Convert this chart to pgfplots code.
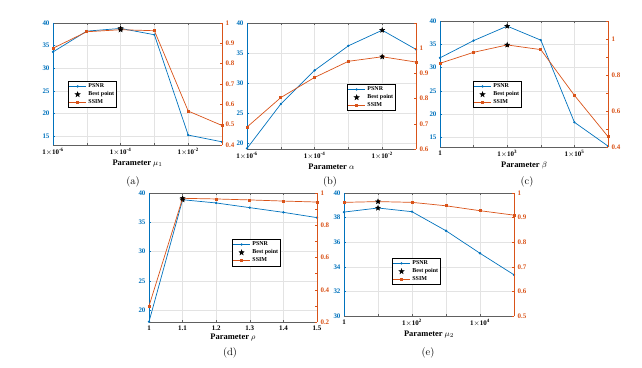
\documentclass[border=0pt]{standalone}
\usepackage{fontspec}
\usepackage{pgfplots}
\pgfplotsset{compat=1.18}
\newfontfamily\tnr{Liberation Serif}
\definecolor{psnr}{RGB}{0,114,189}
\definecolor{ssim}{RGB}{217,83,25}
\pgfdeclareplotmark{fstar}{%
  \pgfpathmoveto{\pgfpointpolar{90}{\pgfplotmarksize}}%
  \pgfpathlineto{\pgfpointpolar{126}{0.4\pgfplotmarksize}}%
  \pgfpathlineto{\pgfpointpolar{162}{\pgfplotmarksize}}%
  \pgfpathlineto{\pgfpointpolar{198}{0.4\pgfplotmarksize}}%
  \pgfpathlineto{\pgfpointpolar{234}{\pgfplotmarksize}}%
  \pgfpathlineto{\pgfpointpolar{270}{0.4\pgfplotmarksize}}%
  \pgfpathlineto{\pgfpointpolar{306}{\pgfplotmarksize}}%
  \pgfpathlineto{\pgfpointpolar{342}{0.4\pgfplotmarksize}}%
  \pgfpathlineto{\pgfpointpolar{18}{\pgfplotmarksize}}%
  \pgfpathlineto{\pgfpointpolar{54}{0.4\pgfplotmarksize}}%
  \pgfpathclose\pgfusepathqfillstroke}
\pgfplotsset{
  base/.style={scale only axis, anchor=south west,
    /pgf/number format/assume math mode=true,
    tick label style={font=\tnr\bfseries\fontsize{7}{8}\selectfont},
    label style={font=\tnr\bfseries\fontsize{8.5}{9}\selectfont},
    major tick length=2.5pt, tick style={line width=0.4pt}},
  leftax/.style={base, separate axis lines,
    x axis line style={color=gray!75!black, line width=0.8pt},
    y axis line style={color=psnr, line width=0.8pt},
    ytick pos=left, yticklabel style={color=psnr}, ytick style={color=psnr},
    xtick style={color=gray!75!black},
    grid=major, grid style={gray!22, line width=0.4pt},
    xlabel style={yshift=3pt}},
  rightax/.style={base, axis y line*=right, axis x line=none,
    y axis line style={color=ssim, line width=0.8pt},
    yticklabel style={color=ssim}, ytick style={color=ssim},
    legend cell align=left},
  lg/.style={legend style={at={#1}, anchor=north west,
    font=\tnr\bfseries\fontsize{6}{6.5}\selectfont, draw=black, line width=0.5pt,
    inner sep=0.5pt, row sep=-1.5pt, fill=white}},
  pline/.style={color=psnr, line width=0.7pt, mark=*, mark size=0.8pt},
  sline/.style={color=ssim, line width=0.7pt, mark=square*, mark size=1pt},
  best/.style={only marks, mark=fstar, mark size=2.6pt, black, mark options={fill=black}},
}
\begin{document}
\begin{tikzpicture}
\useasboundingbox (0,0) rectangle (642bp,368bp);
% ---------------- (a)
\begin{axis}[leftax, at={(53bp,223bp)}, width=169bp, height=122bp,
  xmin=0, xmax=5, xtick={0,1,2,3,4,5},
  xticklabels={1$\times$10\textsuperscript{-6},,1$\times$10\textsuperscript{-4},,1$\times$10\textsuperscript{-2},},
  ymin=13, ymax=40, ytick={15,20,25,30,35,40}, xlabel={Parameter $\mu_1$}]
\addplot[pline] coordinates {(0,33.6) (1,38.2) (2,38.8) (3,37.4) (4,15.2) (5,13.7)};
\addplot[best] coordinates {(2,38.8)};
\end{axis}
\begin{axis}[rightax, at={(53bp,223bp)}, width=169bp, height=122bp,
  xmin=0, xmax=5, ymin=0.4, ymax=1, ytick={0.4,0.5,0.6,0.7,0.8,0.9,1},
  lg={(0.089,0.525)}]
\addlegendimage{pline}\addlegendentry{PSNR}
\addlegendimage{best}\addlegendentry{Best point}
\addplot[sline] coordinates {(0,0.876) (1,0.957) (2,0.967) (3,0.962) (4,0.567) (5,0.496)};
\addlegendentry{SSIM}
\addplot[best, forget plot] coordinates {(2,0.967)};
\end{axis}
% ---------------- (b)
\begin{axis}[leftax, at={(247bp,219bp)}, width=169bp, height=126bp,
  xmin=0, xmax=5, xtick={0,1,2,3,4,5},
  xticklabels={1$\times$10\textsuperscript{-6},,1$\times$10\textsuperscript{-4},,1$\times$10\textsuperscript{-2},},
  ymin=19, ymax=40, ytick={20,25,30,35,40}, xlabel={Parameter $\alpha$}]
\addplot[pline] coordinates {(0,19.1) (1,26.5) (2,32.1) (3,36.2) (4,38.8) (5,35.6)};
\addplot[best] coordinates {(4,38.8)};
\end{axis}
\begin{axis}[rightax, at={(247bp,219bp)}, width=169bp, height=126bp,
  xmin=0, xmax=5, ymin=0.6, ymax=1.1, ytick={0.6,0.7,0.8,0.9,1,1.1},
  yticklabels={0.6,0.7,0.8,0.9,1,}, lg={(0.592,0.516)}]
\addlegendimage{pline}\addlegendentry{PSNR}
\addlegendimage{best}\addlegendentry{Best point}
\addplot[sline] coordinates {(0,0.687) (1,0.804) (2,0.884) (3,0.948) (4,0.966) (5,0.945)};
\addlegendentry{SSIM}
\addplot[best, forget plot] coordinates {(4,0.966)};
\end{axis}
% ---------------- (c)
\begin{axis}[leftax, at={(440bp,221bp)}, width=168bp, height=126bp,
  xmin=0, xmax=5, xtick={0,1,2,3,4,5},
  xticklabels={1,,1$\times$10\textsuperscript{3},,1$\times$10\textsuperscript{5},},
  ymin=13, ymax=40, ytick={15,20,25,30,35,40}, xlabel={Parameter $\beta$}]
\addplot[pline] coordinates {(0,32.1) (1,35.8) (2,38.9) (3,35.9) (4,18.3) (5,13.2)};
\addplot[best] coordinates {(2,38.9)};
\end{axis}
\begin{axis}[rightax, at={(440bp,221bp)}, width=168bp, height=126bp,
  xmin=0, xmax=5, ymin=0.4, ymax=1.1, ytick={0.4,0.5,0.6,0.7,0.8,0.9,1,1.1},
  yticklabels={0.4,,0.6,,0.8,,1,}, lg={(0.196,0.524)}]
\addlegendimage{pline}\addlegendentry{PSNR}
\addlegendimage{best}\addlegendentry{Best point}
\addplot[sline] coordinates {(0,0.865) (1,0.926) (2,0.967) (3,0.941) (4,0.687) (5,0.458)};
\addlegendentry{SSIM}
\addplot[best, forget plot] coordinates {(2,0.967)};
\end{axis}
% ---------------- (d)
\begin{axis}[leftax, at={(149bp,46bp)}, width=168bp, height=129bp,
  xmin=1, xmax=1.5, xtick={1,1.1,1.2,1.3,1.4,1.5},
  ymin=18, ymax=40, ytick={20,25,30,35,40}, xlabel={Parameter $\rho$}]
\addplot[pline] coordinates {(1,18.05) (1.1,38.85) (1.2,38.3) (1.3,37.5) (1.4,36.7) (1.5,35.8)};
\addplot[best] coordinates {(1.1,38.85)};
\end{axis}
\begin{axis}[rightax, at={(149bp,46bp)}, width=168bp, height=129bp,
  xmin=1, xmax=1.5, ymin=0.2, ymax=1, ytick={0.2,0.3,0.4,0.5,0.6,0.7,0.8,0.9,1},
  yticklabels={0.2,,0.4,,0.6,,0.8,,1}, lg={(0.494,0.643)}]
\addlegendimage{pline}\addlegendentry{PSNR}
\addlegendimage{best}\addlegendentry{Best point}
\addplot[sline] coordinates {(1,0.299) (1.1,0.967) (1.2,0.963) (1.3,0.957) (1.4,0.950) (1.5,0.944)};
\addlegendentry{SSIM}
\addplot[best, forget plot] coordinates {(1.1,0.967)};
\end{axis}
% ---------------- (e)
\begin{axis}[leftax, at={(344bp,52bp)}, width=170bp, height=123bp,
  xmin=0, xmax=5, xtick={0,1,2,3,4,5},
  xticklabels={1,,1$\times$10\textsuperscript{2},,1$\times$10\textsuperscript{4},},
  ymin=30, ymax=40, ytick={30,32,34,36,38,40}, xlabel={Parameter $\mu_2$}]
\addplot[pline] coordinates {(0,38.45) (1,38.78) (2,38.48) (3,36.93) (4,35.1) (5,33.35)};
\addplot[best] coordinates {(1,38.78)};
\end{axis}
\begin{axis}[rightax, at={(344bp,52bp)}, width=170bp, height=123bp,
  xmin=0, xmax=5, ymin=0.5, ymax=1, ytick={0.5,0.6,0.7,0.8,0.9,1},
  lg={(0.282,0.472)}]
\addlegendimage{pline}\addlegendentry{PSNR}
\addlegendimage{best}\addlegendentry{Best point}
\addplot[sline] coordinates {(0,0.962) (1,0.965) (2,0.962) (3,0.948) (4,0.928) (5,0.910)};
\addlegendentry{SSIM}
\addplot[best, forget plot] coordinates {(1,0.965)};
\end{axis}
% captions
\node[font=\fontsize{10.5}{12}\selectfont] at (133bp,186bp) {(a)};
\node[font=\fontsize{10.5}{12}\selectfont] at (330bp,186bp) {(b)};
\node[font=\fontsize{10.5}{12}\selectfont] at (527bp,186bp) {(c)};
\node[font=\fontsize{10.5}{12}\selectfont] at (230bp,15bp) {(d)};
\node[font=\fontsize{10.5}{12}\selectfont] at (428bp,15bp) {(e)};
\end{tikzpicture}
\end{document}
